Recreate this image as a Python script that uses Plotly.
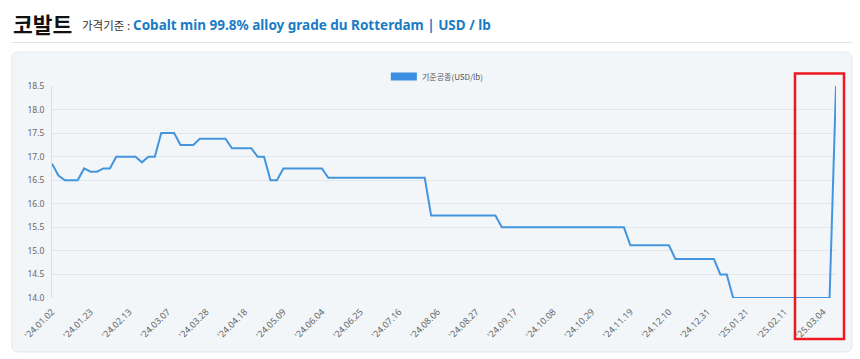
import pandas as pd
import plotly.graph_objects as go

W, H = 860, 359

# ---- data ----
skipped_dates = ["2024-02-22", "2024-05-23"]
all_days = pd.date_range("2024-01-02", "2025-03-11")
dates = [d for d in all_days if d.weekday() in (1, 3) and d.strftime("%Y-%m-%d") not in skipped_dates]
labels = ["'" + d.strftime("%y.%m.%d") for d in dates]

prices = [
    16.85, 16.6, 16.5, 16.5, 16.5, 16.75, 16.68, 16.68, 16.75, 16.75,
    17.0, 17.0, 17.0, 17.0, 16.88, 17.0, 17.0, 17.5, 17.5, 17.5,
    17.25, 17.25, 17.25, 17.38, 17.38, 17.38, 17.38, 17.38, 17.18, 17.18,
    17.18, 17.18, 17.0, 17.0, 16.5, 16.5, 16.75, 16.75, 16.75, 16.75,
    16.75, 16.75, 16.75, 16.55, 16.55, 16.55, 16.55, 16.55, 16.55, 16.55,
    16.55, 16.55, 16.55, 16.55, 16.55, 16.55, 16.55, 16.55, 16.55, 15.75,
    15.75, 15.75, 15.75, 15.75, 15.75, 15.75, 15.75, 15.75, 15.75, 15.75,
    15.5, 15.5, 15.5, 15.5, 15.5, 15.5, 15.5, 15.5, 15.5, 15.5,
    15.5, 15.5, 15.5, 15.5, 15.5, 15.5, 15.5, 15.5, 15.5, 15.5,
    15.12, 15.12, 15.12, 15.12, 15.12, 15.12, 15.12, 14.83, 14.83, 14.83,
    14.83, 14.83, 14.83, 14.83, 14.5, 14.5, 14.0, 14.0, 14.0, 14.0,
    14.0, 14.0, 14.0, 14.0, 14.0, 14.0, 14.0, 14.0, 14.0, 14.0,
    14.0, 14.0, 18.5,
]
labels = labels[:len(prices)]

y_ticks = [14.0, 14.5, 15.0, 15.5, 16.0, 16.5, 17.0, 17.5, 18.0, 18.5]
series_name = "기준공종(USD/lb)"
title_main = "코발트"
title_sub = "가격기준 :"
title_basis = "Cobalt min 99.8% alloy grade du Rotterdam | USD / lb"

# ---- plot area geometry (pixels) ----
L, R, T, B = 52.3, 836.0, 86.0, 298.0
PW, PH = R - L, B - T

def fx(px):
    return (px - L) / PW

def fy(py):
    return (B - py) / PH

fig = go.Figure()
fig.add_trace(go.Scatter(
    x=labels, y=prices, mode="lines",
    line=dict(color="#4396de", width=2),
    name=series_name, showlegend=False, cliponaxis=False,
))

shapes = []
# card background (rounded)
cx0, cx1, cy0, cy1, r = 12, 852, 52, 352, 7
path = (f"M {fx(cx0 + r)},{fy(cy0)} L {fx(cx1 - r)},{fy(cy0)} "
        f"Q {fx(cx1)},{fy(cy0)} {fx(cx1)},{fy(cy0 + r)} "
        f"L {fx(cx1)},{fy(cy1 - r)} Q {fx(cx1)},{fy(cy1)} {fx(cx1 - r)},{fy(cy1)} "
        f"L {fx(cx0 + r)},{fy(cy1)} Q {fx(cx0)},{fy(cy1)} {fx(cx0)},{fy(cy1 - r)} "
        f"L {fx(cx0)},{fy(cy0 + r)} Q {fx(cx0)},{fy(cy0)} {fx(cx0 + r)},{fy(cy0)} Z")
shapes.append(dict(type="path", xref="paper", yref="paper", path=path,
                   fillcolor="#f2f6f9", line=dict(color="#e5e9ed", width=1), layer="below"))
# title underline
shapes.append(dict(type="line", xref="paper", yref="paper",
                   x0=fx(12), x1=fx(852), y0=fy(42.5), y1=fy(42.5),
                   line=dict(color="#e2e2e2", width=1)))
# legend swatch
shapes.append(dict(type="rect", xref="paper", yref="paper",
                   x0=fx(391), x1=fx(417), y0=fy(72.5), y1=fy(80.5),
                   fillcolor="#3a8fe2", line=dict(width=0)))
# red highlight box
shapes.append(dict(type="rect", xref="paper", yref="paper",
                   x0=fx(795), x1=fx(844), y0=fy(73.5), y1=fy(339),
                   fillcolor="rgba(0,0,0,0)", line=dict(color="#f01820", width=2.5),
                   layer="above"))

annotations = [
    dict(text=f"<b>{title_main}</b>", x=fx(11), y=fy(23.5), xref="paper", yref="paper",
         xanchor="left", yanchor="middle", showarrow=False,
         font=dict(family="Noto Sans CJK KR", size=21.5, color="#111111")),
    dict(text=title_sub, x=fx(80), y=fy(25.5), xref="paper", yref="paper",
         xanchor="left", yanchor="middle", showarrow=False,
         font=dict(family="Noto Sans CJK KR", size=11.5, color="#333333")),
    dict(text=f"<b>{title_basis}</b>", x=fx(131.5), y=fy(24.5), xref="paper", yref="paper",
         xanchor="left", yanchor="middle", showarrow=False,
         font=dict(family="Noto Sans, Noto Sans CJK KR", size=13.5, color="#1a7cc5")),
    dict(text=series_name, x=fx(420), y=fy(76.5), xref="paper", yref="paper",
         xanchor="left", yanchor="middle", showarrow=False,
         font=dict(family="Noto Sans CJK KR", size=8, color="#555555")),
]

fig.update_layout(
    width=W, height=H,
    margin=dict(l=L, r=W - R, t=T, b=H - B, pad=0),
    paper_bgcolor="white", plot_bgcolor="rgba(0,0,0,0)",
    shapes=shapes, annotations=annotations,
    showlegend=False,
    xaxis=dict(
        type="category", range=[0, len(prices) - 1],
        tickmode="array", tickvals=labels[::6], ticktext=labels[::6],
        tickangle=-45, tickfont=dict(family="Noto Sans, Noto Sans CJK KR", size=9, color="#666666"),
        showgrid=False, zeroline=False, showline=False,
        ticks="outside", ticklen=4, tickcolor="rgba(0,0,0,0)",
    ),
    yaxis=dict(
        range=[14.0, 18.5], tickmode="array", tickvals=y_ticks,
        ticktext=[f"{v:.1f}" for v in y_ticks],
        tickfont=dict(family="Noto Sans, Noto Sans CJK KR", size=8.5, color="#666666"),
        showgrid=True, gridcolor="#e3e7eb", gridwidth=1,
        zeroline=False, showline=True, linecolor="#dadee2", linewidth=1,
        ticks="outside", ticklen=5, tickcolor="rgba(0,0,0,0)",
    ),
)

fig.write_html("out.html")
